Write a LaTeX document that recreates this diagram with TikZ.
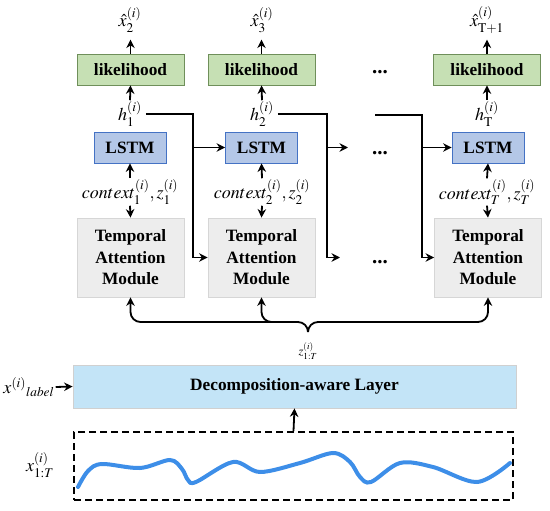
\documentclass[tikz,border=0pt]{standalone}
\usepackage{mathptmx}
\usepackage{fontspec}
\setmainfont{Liberation Serif}
\usetikzlibrary{calc,positioning,arrows.meta}
\definecolor{likefill}{HTML}{C6E0B4}
\definecolor{likedraw}{HTML}{6F8F5A}
\definecolor{lstmfill}{HTML}{B4C7E7}
\definecolor{lstmdraw}{HTML}{4472C4}
\definecolor{tamfill}{HTML}{EDEDED}
\definecolor{tamdraw}{HTML}{D6D6D6}
\definecolor{decfill}{HTML}{C3E4F7}
\definecolor{decdraw}{HTML}{D0D0D0}
\definecolor{seqblue}{HTML}{3D8EE8}

\begin{document}
\begin{tikzpicture}[x=1pt,y=-1pt,
    box/.style={draw,line width=0.8pt,inner sep=0pt,align=center,
      font=\fontsize{17.3}{21.5}\selectfont\bfseries},
    likebox/.style={box,fill=likefill,draw=likedraw,minimum width=107pt,minimum height=31pt},
    lstmbox/.style={box,fill=lstmfill,draw=lstmdraw,minimum width=72pt,minimum height=31pt},
    tambox/.style={box,fill=tamfill,draw=tamdraw,minimum width=107pt,minimum height=79pt},
    decbox/.style={box,fill=decfill,draw=decdraw,minimum width=443pt,minimum height=43pt},
    lbl/.style={font=\fontsize{18}{21}\selectfont,inner sep=1pt},
    dotsn/.style={font=\fontsize{21}{24}\selectfont\bfseries,inner sep=0pt,anchor=base},
    arr/.style={-{Stealth[length=8.5pt,width=8.5pt]},line width=1.8pt},
    bus/.style={line width=1.8pt,rounded corners=10pt}]
    \useasboundingbox (0,0) rectangle (550,511);

    % columns
    \node[likebox] (like1) at (130.5,69.5) {likelihood};
    \node[likebox] (like2) at (261.5,69.5) {likelihood};
    \node[likebox] (like3) at (487,69.5) {likelihood};

    \node[lbl] (xhat1) at (130,20) {$\hat{x}_2^{(i)}$};
    \node[lbl] (xhat2) at (262,20) {$\hat{x}_3^{(i)}$};
    \node[lbl] (xhat3) at (487,20) {$\hat{x}_{\mathrm{T+1}}^{(i)}$};

    \node[lbl] (h1) at (130,114) {$h_1^{(i)}$};
    \node[lbl] (h2) at (262,114) {$h_2^{(i)}$};
    \node[lbl] (h3) at (487,114) {$h_{\mathrm{T}}^{(i)}$};

    \node[lstmbox] (lstm1) at (130,147.5) {LSTM};
    \node[lstmbox] (lstm2) at (261.5,147.5) {LSTM};
    \node[lstmbox] (lstm3) at (488,147.5) {LSTM};

    \node[lbl] (ctx1) at (130,192) {$context_1^{(i)}, z_1^{(i)}$};
    \node[lbl] (ctx2) at (262,192) {$context_2^{(i)}, z_2^{(i)}$};
    \node[lbl] (ctx3) at (487,192) {$context_T^{(i)}, z_T^{(i)}$};

    \node[tambox] (tam1) at (130.5,257.5) {Temporal\\Attention\\Module};
    \node[tambox] (tam2) at (261.5,257.5) {Temporal\\Attention\\Module};
    \node[tambox] (tam3) at (488,257.5) {Temporal\\Attention\\Module};

    \node[dotsn] (dots1) at (380,74) {...};
    \node[dotsn] (dots2) at (380,154) {...};
    \node[dotsn] (dots3) at (380,263) {...};

    \foreach \i in {1,2,3}{
      \draw[arr] (like\i.north) -- ($(like\i.north)+(0,-14)$);
      \draw[arr] (h\i.north) -- (like\i.south);
      \draw[arr] (ctx\i.north) -- (lstm\i.south);
      \draw[arr] (ctx\i.south) -- (tam\i.north);
    }

    % recurrent links
    \coordinate (fa) at (193,115);
    \coordinate (fb) at (327,115);
    \coordinate (fc0) at (375,115);
    \coordinate (fc) at (422,115);
    \draw[arr] ($(h1.east)+(3,0)$) -| (fa |- tam2.west) -- (tam2.west);
    \draw[arr] (fa |- lstm2.west) -- (lstm2.west);
    \draw[arr] ($(h2.east)+(3,0)$) -| (fb |- tam2.west) -- (340,257.5);
    \draw[arr] (fb |- lstm2.west) -- (348,147.5);
    \draw[arr] (fc0) -| (fc |- tam3.west) -- (tam3.west);
    \draw[arr] (fc |- lstm3.west) -- (lstm3.west);

    % shared input to attention modules
    \coordinate (tip) at (308,332);
    \draw[bus,arr] (tip) -- (308,322) -- (tam1.south |- 0,322) -- (tam1.south);
    \draw[bus,arr] (tip) -- (308,322) -- (tam3.south |- 0,322) -- (tam3.south);
    \draw[bus,arr] (275,322) -- (tam2.south |- 0,322) -- (tam2.south);
    \node[lbl,font=\fontsize{12.5}{14}\selectfont] (zall) at (308,351) {$z_{1:T}^{(i)}$};

    % bottom part
    \node[decbox] (dec) at (294.5,386.5) {Decomposition-aware Layer};
    \node[lbl] (xlab) at (29,387) {$x^{(i)}{}_{label}$};
    \draw[arr] (xlab.east) -- (dec.west);

    \node[draw,dashed,line width=1.8pt,dash pattern=on 7pt off 4pt,
      minimum width=439pt,minimum height=68pt,inner sep=0pt] (seq) at (293.5,466) {};
    \node[lbl] (xseq) at (40,465) {$x_{1:T}^{(i)}$};
    \draw[arr] (seq.north) -- (dec.south);

    \draw[seqblue,line width=4pt,line cap=round] plot[smooth,tension=0.55] coordinates {
      (78,487) (88,471) (102,464) (140,468) (170,460) (182,469) (188,480)
      (196,482) (233,462) (260,472) (300,463) (333,453) (350,462) (360,477)
      (371,482) (400,463) (433,467) (477,482) (510,463)};
  \end{tikzpicture}
\end{document}
